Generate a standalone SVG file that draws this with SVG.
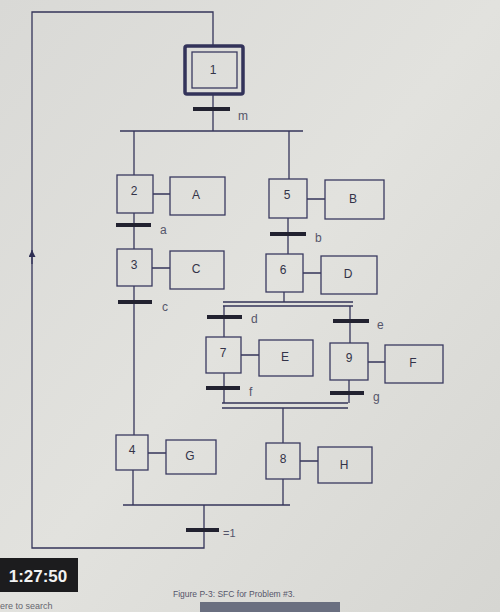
<svg xmlns="http://www.w3.org/2000/svg" width="500" height="612" viewBox="0 0 500 612">
<defs>
<linearGradient id="bg" x1="0" y1="0" x2="1" y2="1">
<stop offset="0" stop-color="#d9d9d6"/>
<stop offset="0.5" stop-color="#e2e2de"/>
<stop offset="1" stop-color="#d6d6d2"/>
</linearGradient>
<marker id="arr" viewBox="0 0 10 10" refX="10" refY="5" markerWidth="9" markerHeight="7" markerUnits="userSpaceOnUse" orient="auto">
<path d="M0,0 L10,5 L0,10 z" fill="#2e2e52"/>
</marker>
</defs>
<style>
.ln{stroke:#35355a;stroke-width:1.3;fill:none}
.box{stroke:#3a3a60;stroke-width:1.3;fill:none}
.bar{stroke:#222230;stroke-width:4}
.t{font-family:"Liberation Sans",Arial,sans-serif;font-size:12px;fill:#333348;text-anchor:middle;dominant-baseline:central}
.lb{font-family:"Liberation Sans",Arial,sans-serif;font-size:12px;fill:#55556a}
</style>
<rect width="500" height="612" fill="url(#bg)"/>
<g id="connectors">
<path class="ln" d="M213,45 V12 H32 V548 H204 V505"/>
<path class="ln" d="M32,264 V250" marker-end="url(#arr)"/>
<path class="ln" d="M213,95 V131"/>
<path class="ln" d="M120,131 H303"/>
<path class="ln" d="M134,131 V175"/>
<path class="ln" d="M289,131 V179"/>
<path class="ln" d="M134,213 V249"/>
<path class="ln" d="M134,286 V435"/>
<path class="ln" d="M288,218 V254"/>
<path class="ln" d="M284,292 V302"/>
<path class="ln" d="M223,302 H353 M223,306 H353"/>
<path class="ln" d="M224,306 V337"/>
<path class="ln" d="M350,306 V343"/>
<path class="ln" d="M224,373 V403"/>
<path class="ln" d="M349,380 V403"/>
<path class="ln" d="M222,403 H348 M222,408 H348"/>
<path class="ln" d="M283,408 V443"/>
<path class="ln" d="M133,470 V505"/>
<path class="ln" d="M283,479 V505"/>
<path class="ln" d="M123,505 H290"/>
<path class="ln" d="M153,194 H170 M152,268 H170 M307,199 H325 M303,273 H321 M241,355 H259 M368,362 H385 M148,453 H166 M300,461 H318"/>
</g>
<g id="transitions">
<line class="bar" x1="193" y1="109" x2="230" y2="109"/>
<text class="lb" x="238" y="120">m</text>
<line class="bar" x1="116" y1="225" x2="151" y2="225"/>
<text class="lb" x="160" y="234">a</text>
<line class="bar" x1="118" y1="302" x2="152" y2="302"/>
<text class="lb" x="162" y="311">c</text>
<line class="bar" x1="270" y1="234" x2="306" y2="234"/>
<text class="lb" x="315" y="242">b</text>
<line class="bar" x1="207" y1="317" x2="242" y2="317"/>
<text class="lb" x="251" y="323">d</text>
<line class="bar" x1="333" y1="321" x2="369" y2="321"/>
<text class="lb" x="377" y="329">e</text>
<line class="bar" x1="206" y1="388" x2="240" y2="388"/>
<text class="lb" x="249" y="396">f</text>
<line class="bar" x1="330" y1="393" x2="364" y2="393"/>
<text class="lb" x="373" y="401">g</text>
<line class="bar" x1="186" y1="530" x2="219" y2="530"/>
<text class="lb" x="223" y="537" style="font-size:11px">=1</text>
</g>
<g id="step1">
<rect x="185" y="46" width="58" height="48" rx="2" fill="none" stroke="#33335a" stroke-width="3.5"/>
<rect x="192" y="52" width="45" height="36" class="box"/>
<text class="t" x="213" y="70">1</text>
</g>
<g id="step2"><rect class="box" x="117" y="175" width="36" height="38"/><text class="t" x="134" y="191">2</text></g>
<g id="actionA"><rect class="box" x="170" y="177" width="55" height="38"/><text class="t" x="196" y="195">A</text></g>
<g id="step3"><rect class="box" x="117" y="249" width="35" height="37"/><text class="t" x="134" y="265">3</text></g>
<g id="actionC"><rect class="box" x="170" y="251" width="54" height="38"/><text class="t" x="196" y="269">C</text></g>
<g id="step4"><rect class="box" x="116" y="435" width="32" height="35"/><text class="t" x="132" y="450">4</text></g>
<g id="actionG"><rect class="box" x="166" y="440" width="50" height="34"/><text class="t" x="190" y="456">G</text></g>
<g id="step5"><rect class="box" x="269" y="179" width="38" height="39"/><text class="t" x="287" y="195">5</text></g>
<g id="actionB"><rect class="box" x="325" y="180" width="59" height="39"/><text class="t" x="353" y="199">B</text></g>
<g id="step6"><rect class="box" x="266" y="254" width="37" height="38"/><text class="t" x="283" y="270">6</text></g>
<g id="actionD"><rect class="box" x="321" y="256" width="56" height="38"/><text class="t" x="348" y="274">D</text></g>
<g id="step7"><rect class="box" x="206" y="337" width="35" height="36"/><text class="t" x="223" y="353">7</text></g>
<g id="actionE"><rect class="box" x="259" y="340" width="54" height="36"/><text class="t" x="285" y="357">E</text></g>
<g id="step9"><rect class="box" x="330" y="343" width="38" height="37"/><text class="t" x="349" y="358">9</text></g>
<g id="actionF"><rect class="box" x="385" y="345" width="58" height="38"/><text class="t" x="413" y="363">F</text></g>
<g id="step8"><rect class="box" x="266" y="443" width="34" height="36"/><text class="t" x="283" y="459">8</text></g>
<g id="actionH"><rect class="box" x="318" y="447" width="54" height="36"/><text class="t" x="344" y="465">H</text></g>
<g id="overlay">
<rect x="0" y="558" width="78" height="34" fill="#1c1c1e"/>
<text x="38" y="576" style="font-family:'Liberation Sans',Arial,sans-serif;font-size:17px;font-weight:bold;fill:#f2f2f2;text-anchor:middle;dominant-baseline:central">1:27:50</text>
<text x="173" y="597" style="font-family:'Liberation Sans',Arial,sans-serif;font-size:8.5px;fill:#55556a">Figure P-3: SFC for Problem #3.</text>
<text x="0" y="609" style="font-family:'Liberation Sans',Arial,sans-serif;font-size:9px;fill:#66666e">ere to search</text>
<rect x="200" y="602" width="140" height="10" fill="#6a6f80"/>
</g>
</svg>
